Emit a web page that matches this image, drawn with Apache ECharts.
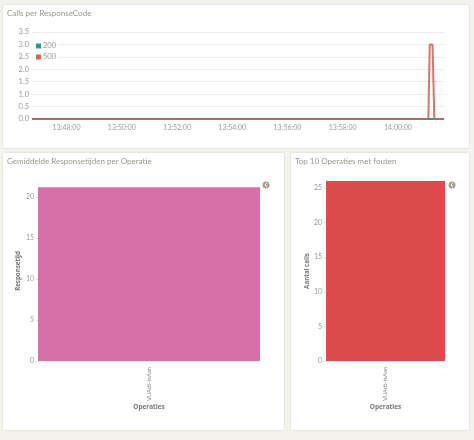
<!DOCTYPE html>
<html>
<head>
<meta charset="UTF-8">
<title>dashboard</title>
<script type="text/javascript" src="https://cdn.jsdelivr.net/npm/echarts@6/dist/echarts.min.js"></script>
<style>
html, body { margin: 0; padding: 0; background: #f3f2ec; }
#container { width: 474px; height: 440px; }
</style>
</head>
<body>
<div id="container"></div>
<script type="text/javascript">
var day = '2015-06-01 ';
var callTimes = ['13:46:45', '14:01:06', '14:01:09', '14:01:15', '14:01:19', '14:01:40'];
var calls200 = [0, 0, 0, 0, 0, 0];
var calls500 = [0, 0, 3, 3, 0, 0];
var operaties = ['VUAdt-tsAan'];
var responsetijden = [21.2];
var fouten = [26];

var fontName = 'Lato';
var labelColor = '#999999';

function pairs(values) {
    return values.map(function (v, i) {
        return [day + callTimes[i], v];
    });
}

function panel(x, y, w, h) {
    return {
        type: 'rect',
        silent: true,
        z: -1,
        shape: {x: x, y: y, width: w, height: h, r: 2},
        style: {fill: '#ffffff', stroke: '#e8e7df', lineWidth: 1}
    };
}

// klein pijltje rechtsboven bij de bar charts
function arrow(x, y) {
    return {
        type: 'group',
        silent: true,
        children: [
            {type: 'circle', shape: {cx: x, cy: y, r: 3.5}, style: {fill: '#a89f91'}},
            {type: 'polyline', shape: {points: [[x + 1, y - 2], [x - 1, y], [x + 1, y + 2]]},
                style: {stroke: '#ffffff', fill: 'none', lineWidth: 1}}
        ]
    };
}

function titleAt(text, x, y) {
    return {
        text: text,
        left: x,
        top: y,
        padding: 0,
        textStyle: {color: '#98988e', fontFamily: fontName, fontSize: 8, fontWeight: 'normal'}
    };
}

function barYAxis(index, max, name, gap) {
    return {
        type: 'value',
        gridIndex: index,
        min: 0,
        max: max,
        interval: 5,
        name: name,
        nameLocation: 'middle',
        nameGap: gap,
        nameMoveOverlap: false,
        nameTextStyle: {color: '#777777', fontFamily: '"Open Sans"', fontSize: 6.2, fontWeight: 'bold'},
        axisLine: {show: true, lineStyle: {color: '#eeeeee'}},
        axisTick: {show: true, length: 2, lineStyle: {color: '#dddddd'}},
        axisLabel: {color: labelColor, fontFamily: fontName, fontSize: 7, margin: 4, showMaxLabel: false},
        splitLine: {show: false}
    };
}

function barXAxis(index) {
    return {
        type: 'category',
        gridIndex: index,
        data: operaties,
        name: 'Operaties',
        nameLocation: 'middle',
        nameGap: 43,
        nameMoveOverlap: false,
        nameTextStyle: {color: '#777777', fontFamily: '"Open Sans"', fontSize: 6.4, fontWeight: 'bold'},
        axisLine: {show: true, lineStyle: {color: '#eeeeee'}},
        axisTick: {show: false},
        axisLabel: {color: '#858585', fontFamily: fontName, fontSize: 5.8, rotate: 90, margin: 6}
    };
}

var dom = document.getElementById('container');
var myChart = echarts.init(dom, null, {renderer: 'canvas'});
var option = {
    animation: false,
    backgroundColor: '#f3f2ec',
    title: [
        titleAt('Calls per ResponseCode', 7, 9),
        titleAt('Gemiddelde Responsetijden per Operatie', 7, 157),
        titleAt('Top 10 Operaties met fouten', 295, 157)
    ],
    legend: {
        orient: 'vertical',
        left: 34,
        top: 40,
        padding: [2, 2, 2, 2],
        backgroundColor: '#ffffff',
        itemGap: 3,
        itemWidth: 5,
        itemHeight: 5,
        icon: 'rect',
        textStyle: {color: labelColor, fontFamily: fontName, fontSize: 7.5, padding: [2, 0, 0, -3]},
        data: ['200', '500']
    },
    graphic: [
        panel(2.5, 4.5, 467, 144),
        panel(2.5, 152.5, 282, 278),
        panel(290.5, 152.5, 179, 278),
        arrow(266, 185),
        arrow(452, 185)
    ],
    grid: [
        {left: 32, top: 32, width: 412, height: 87},
        {left: 38, top: 181, width: 222, height: 180},
        {left: 326, top: 181, width: 119, height: 180}
    ],
    xAxis: [
        {
            type: 'time',
            gridIndex: 0,
            min: day + callTimes[0],
            max: day + callTimes[callTimes.length - 1],
            interval: 120000,
            axisLine: {show: false},
            axisTick: {show: false},
            splitLine: {show: false},
            axisLabel: {
                color: labelColor,
                fontFamily: fontName,
                fontSize: 7,
                margin: 5,
                hideOverlap: false,
                showMinLabel: false,
                showMaxLabel: false,
                formatter: '{HH}:{mm}:{ss}'
            }
        },
        barXAxis(1),
        barXAxis(2)
    ],
    yAxis: [
        {
            type: 'value',
            gridIndex: 0,
            min: 0,
            max: 3.5,
            interval: 0.5,
            axisLine: {show: false},
            axisTick: {show: false},
            axisLabel: {
                color: labelColor,
                fontFamily: fontName,
                fontSize: 7.5,
                margin: 3,
                formatter: function (v) { return v.toFixed(1); }
            },
            splitLine: {lineStyle: {color: '#ececec', width: 1}}
        },
        barYAxis(1, 21.95, 'Responsetijd', 17),
        barYAxis(2, 26, 'Aantal calls', 16)
    ],
    series: [
        {
            name: '200',
            type: 'line',
            xAxisIndex: 0,
            yAxisIndex: 0,
            showSymbol: false,
            data: pairs(calls200),
            itemStyle: {color: '#1fa08a'},
            lineStyle: {color: '#1fa08a', width: 2}
        },
        {
            name: '500',
            type: 'line',
            xAxisIndex: 0,
            yAxisIndex: 0,
            showSymbol: false,
            data: pairs(calls500),
            itemStyle: {color: '#d9605c'},
            lineStyle: {color: '#cb5f5a', width: 2, opacity: 0.85}
        },
        {
            name: 'Responsetijd',
            type: 'bar',
            xAxisIndex: 1,
            yAxisIndex: 1,
            barWidth: '100%',
            data: responsetijden,
            itemStyle: {color: '#d86fa8'}
        },
        {
            name: 'Aantal calls',
            type: 'bar',
            xAxisIndex: 2,
            yAxisIndex: 2,
            barWidth: '100%',
            data: fouten,
            itemStyle: {color: '#dc4c4a'}
        }
    ]
};
myChart.setOption(option);
</script>
</body>
</html>
